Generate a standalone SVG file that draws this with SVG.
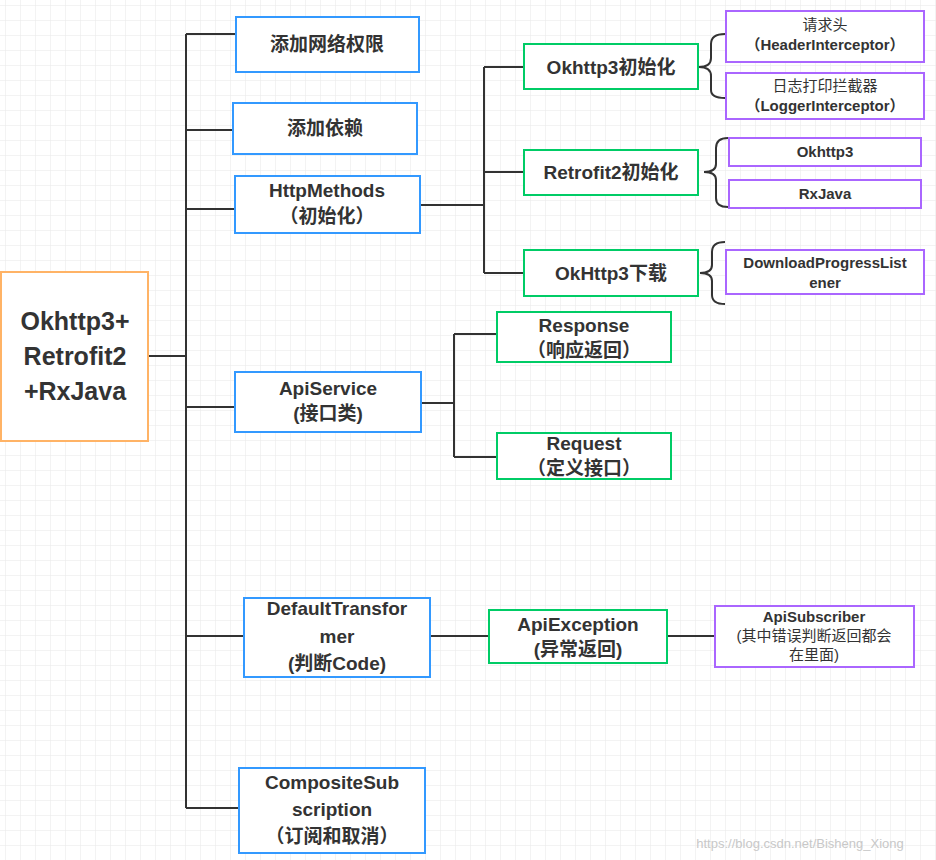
<svg xmlns="http://www.w3.org/2000/svg" width="936" height="860" viewBox="0 0 936 860">
<defs>
<pattern id="g" width="15" height="15" patternUnits="userSpaceOnUse" x="5" y="5">
<path d="M15 0H0V15" fill="none" stroke="#e8e8e8" stroke-width="1"/>
</pattern>
<style>
text{font-family:"Liberation Sans","Noto Sans CJK SC",sans-serif;fill:#333;text-anchor:middle;font-weight:bold}
.b{fill:#fff;stroke:#3399ff;stroke-width:2}
.gr{fill:#fff;stroke:#00cc66;stroke-width:2}
.p{fill:#fff;stroke:#aa66ff;stroke-width:2}
.c path,.c line{fill:none;stroke:#333;stroke-width:2}
.m{font-size:19px}
.s{font-size:15px;font-weight:normal}
.sb{font-size:15px}
</style>
</defs>
<rect width="936" height="860" fill="#fff"/>
<rect width="936" height="860" fill="url(#g)"/>
<g class="c">
<path d="M148 356H186M186 34V808M186 34H236M186 130H233M186 209H235M186 407H235M186 636H244M186 808H239"/>
<path d="M420 205H484M484 67V273M484 67H524M484 172H524M484 273H524"/>
<path d="M421 403H454M454 334V457M454 334H497M454 457H497"/>
<path d="M430 636H489M667 636H714"/>
<path d="M725 34Q711 34 711 44V58Q711 67 699 67Q711 67 711 76V90Q711 98 725 98"/>
<path d="M728 138Q716 138 716 148V164Q716 172 704 172Q716 172 716 180V198Q716 207 728 207"/>
<path d="M725 242Q712 242 712 252V265Q712 273 700 273Q712 273 712 281V295Q712 304 725 304"/>
</g>
<g id="root"><rect x="1" y="272" width="147" height="169" fill="#fff" stroke="#ffb366" stroke-width="2"/>
<text font-size="25"><tspan x="75" y="330">Okhttp3+</tspan><tspan x="75" y="365">Retrofit2</tspan><tspan x="75" y="400">+RxJava</tspan></text></g>
<g id="n1"><rect class="b" x="236" y="17" width="183" height="55"/><text class="m" x="327" y="51">添加网络权限</text></g>
<g id="n2"><rect class="b" x="233" y="103" width="184" height="51"/><text class="m" x="325" y="135">添加依赖</text></g>
<g id="n3"><rect class="b" x="235" y="176" width="185" height="57"/><text class="m"><tspan x="327" y="197">HttpMethods</tspan><tspan x="327" y="223">（初始化）</tspan></text></g>
<g id="n4"><rect class="b" x="235" y="372" width="186" height="60"/><text class="m"><tspan x="328" y="395">ApiService</tspan><tspan x="328" y="420">(接口类)</tspan></text></g>
<g id="n5"><rect class="b" x="244" y="598" width="186" height="79"/><text class="m"><tspan x="337" y="615">DefaultTransfor</tspan><tspan x="337" y="643">mer</tspan><tspan x="337" y="670">(判断Code)</tspan></text></g>
<g id="n6"><rect class="b" x="239" y="768" width="186" height="85"/><text class="m"><tspan x="332" y="789">CompositeSub</tspan><tspan x="332" y="816">scription</tspan><tspan x="332" y="843">（订阅和取消）</tspan></text></g>
<g id="g1"><rect class="gr" x="524" y="44" width="174" height="45"/><text class="m" x="611" y="74">Okhttp3初始化</text></g>
<g id="g2"><rect class="gr" x="524" y="150" width="174" height="45"/><text class="m" x="611" y="179">Retrofit2初始化</text></g>
<g id="g3"><rect class="gr" x="524" y="250" width="174" height="46"/><text class="m" x="611" y="280">OkHttp3下载</text></g>
<g id="g4"><rect class="gr" x="497" y="312" width="174" height="50"/><text class="m"><tspan x="584" y="332">Response</tspan><tspan x="584" y="357">（响应返回）</tspan></text></g>
<g id="g5"><rect class="gr" x="497" y="433" width="174" height="46"/><text class="m"><tspan x="584" y="450">Request</tspan><tspan x="584" y="475">（定义接口）</tspan></text></g>
<g id="g6"><rect class="gr" x="489" y="610" width="178" height="53"/><text class="m"><tspan x="578" y="631">ApiException</tspan><tspan x="578" y="656">(异常返回)</tspan></text></g>
<g id="p1"><rect class="p" x="726" y="11" width="198" height="51"/><text class="s"><tspan x="825" y="30">请求头</tspan><tspan x="825" y="50" font-weight="bold">（HeaderInterceptor）</tspan></text></g>
<g id="p2"><rect class="p" x="726" y="73" width="198" height="46"/><text class="s"><tspan x="825" y="91">日志打印拦截器</tspan><tspan x="825" y="111" font-weight="bold">（LoggerInterceptor）</tspan></text></g>
<g id="p3"><rect class="p" x="729" y="138" width="192" height="28"/><text class="sb" x="825" y="157">Okhttp3</text></g>
<g id="p4"><rect class="p" x="729" y="180" width="192" height="28"/><text class="sb" x="825" y="199">RxJava</text></g>
<g id="p5"><rect class="p" x="726" y="250" width="198" height="44"/><text class="sb"><tspan x="825" y="268">DownloadProgressList</tspan><tspan x="825" y="288">ener</tspan></text></g>
<g id="p6"><rect class="p" x="715" y="606" width="199" height="61"/><text class="s"><tspan x="814" y="622" font-weight="bold">ApiSubscriber</tspan><tspan x="814" y="641">(其中错误判断返回都会</tspan><tspan x="814" y="660">在里面)</tspan></text></g>
<text x="800" y="848" style="font-size:13px;font-weight:normal;fill:#c8c8c8">https://blog.csdn.net/Bisheng_Xiong</text>
</svg>
